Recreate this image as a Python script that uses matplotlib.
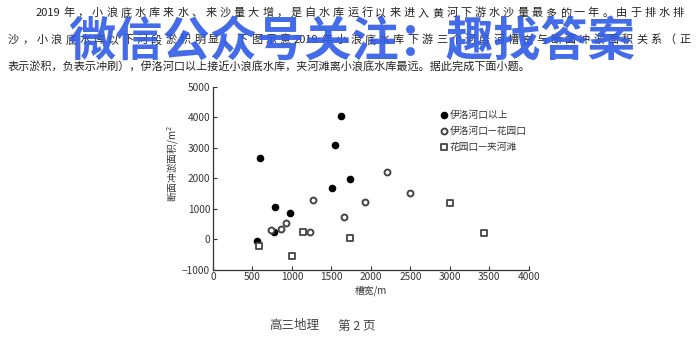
import numpy as np
import matplotlib
matplotlib.use('Agg')
from matplotlib import pyplot as plt

plt.rcParams['font.family'] = ['Noto Sans CJK SC', 'DejaVu Sans']

# 伊洛河口以上 (filled circles)
w_up = [560, 590, 770, 780, 970, 1510, 1550, 1620, 1730]
a_up = [-50, 2660, 250, 1070, 870, 1680, 3080, 4060, 1980]
# 伊洛河口—花园口 (open circles)
w_mid = [730, 860, 930, 1230, 1270, 1660, 1930, 2200, 2500]
a_mid = [300, 350, 530, 250, 1280, 730, 1220, 2220, 1530]
# 花园口—夹河滩 (open squares)
w_low = [580, 1000, 1140, 1730, 3000, 3430]
a_low = [-210, -560, 240, 50, 1180, 220]

xticks = [0, 500, 1000, 1500, 2000, 2500, 3000, 3500, 4000]
yticks = [-1000, 0, 1000, 2000, 3000, 4000, 5000]

# question text, split into tokens so the first two lines can be justified
line1 = ['2019', '年', '，'] + list('小浪底水库来水、来沙量大增，是自水库运行以来进入黄河下游水沙量最多的一年。由于排水排')
line2 = list('沙，小浪底水库以下河段淤积明显。下图示意') + ['2019'] + list('年小浪底水库下游三个河段河槽宽与断面冲淤面积关系（正')
line3 = '表示淤积，负表示冲刷），伊洛河口以上接近小浪底水库，夹河滩离小浪底水库最远。据此完成下面小题。'

W, H = 700, 348
fig = plt.figure(figsize=(7, 3.48), dpi=100)
ax = fig.add_axes([213/W, 1 - 269.7/H, (528.7-213)/W, (269.7-86.9)/H])

ax.scatter(w_up, a_up, s=20, c='black', marker='o', label='伊洛河口以上', zorder=3)
ax.scatter(w_mid, a_mid, s=18, facecolors='white', edgecolors='#444444', linewidths=1.4,
           marker='o', label='伊洛河口—花园口', zorder=3)
ax.scatter(w_low, a_low, s=14, facecolors='white', edgecolors='#444444', linewidths=1.3,
           marker='s', label='花园口—夹河滩', zorder=3)

ax.set_xlim(0, 4000)
ax.set_ylim(-1000, 5000)
ax.set_xticks(xticks)
ax.set_yticks(yticks)
ax.tick_params(direction='in', length=3, width=0.8, labelsize=7.3, colors='#333333', pad=2)
for s in ['top', 'right']:
    ax.spines[s].set_visible(False)
for s in ['left', 'bottom']:
    ax.spines[s].set_color('#333333')
    ax.spines[s].set_linewidth(0.9)

ax.set_xlabel('槽宽/m', fontsize=7, color='#333333', labelpad=2)
ax.set_ylabel('断面冲淤面积/m$^2$', fontsize=7, color='#333333')
ax.yaxis.set_label_coords(-0.10, 0.58)

ax.legend(loc='upper left', bbox_to_anchor=(0.7, 0.9), frameon=False, fontsize=7,
          handletextpad=0.1, borderpad=0, labelspacing=0.6, handlelength=1.0,
          labelcolor='#333333')

txt_kw = dict(fontsize=8, color='#222222', va='center', ha='left')
renderer = fig.canvas.get_renderer()

def justify(tokens, x0, x1, y):
    # place tokens with even gaps so the line fills x0..x1 (pixels)
    texts = [fig.text(0, 1 - y/H, t, **txt_kw) for t in tokens]
    widths = [t.get_window_extent(renderer).width for t in texts]
    gap = (x1 - x0 - sum(widths)) / (len(tokens) - 1)
    x = x0
    for t, w in zip(texts, widths):
        t.set_x(x/W)
        x += w + gap

justify(line1, 36, 684, 13)
justify(line2, 8, 690, 40)
fig.text(8/W, 1 - 66/H, line3, **txt_kw)

# watermark
fig.text(352/W, 1 - 42/H, '微信公众号关注：趣找答案', fontsize=34, fontweight='bold',
         color='#2f5be6', alpha=0.9, ha='center', va='center')

# footer
fig.text(294/W, 1 - 326/H, '高三地理', fontsize=9, color='#444444', ha='center', va='center')
fig.text(357/W, 1 - 326/H, '第 2 页', fontsize=9, color='#444444', ha='center', va='center')

plt.savefig('out.png', dpi=100)
